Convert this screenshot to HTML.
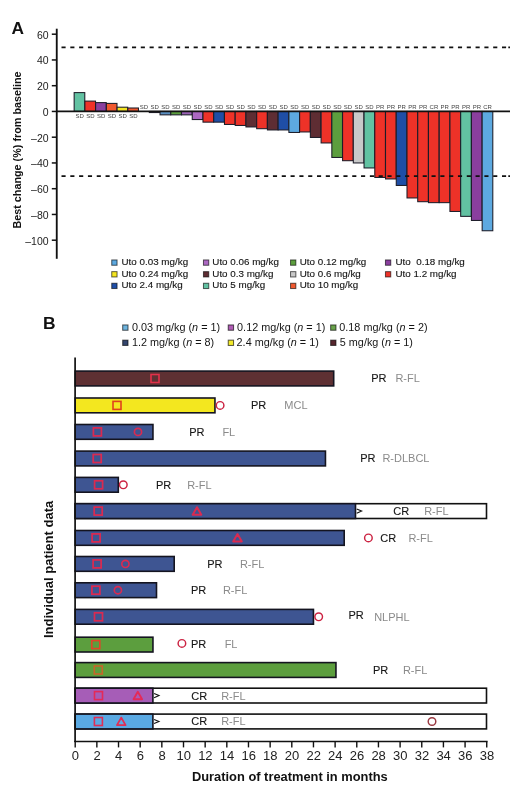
<!DOCTYPE html><html><head><meta charset="utf-8"><title>Figure</title>
<style>html,body{margin:0;padding:0;background:#fff}svg{display:block}text{font-family:"Liberation Sans",Arial,Helvetica,sans-serif}</style></head><body>
<svg width="520" height="786" viewBox="0 0 520 786">
<rect width="520" height="786" fill="#fff"/>
<text x="11.4" y="33.7" font-size="17.3" font-weight="bold" fill="#111">A</text>
<text transform="translate(20.5,150) rotate(-90)" text-anchor="middle" font-size="10.8" font-weight="bold" fill="#111">Best change (%) from baseline</text>
<rect x="74.15" y="92.60" width="10.64" height="18.80" fill="#62C2A2" stroke="#1c1c28" stroke-width="1.05"/>
<text x="79.62" y="118.1" text-anchor="middle" font-size="6" fill="#444">SD</text>
<rect x="84.89" y="101.10" width="10.64" height="10.30" fill="#EE3228" stroke="#1c1c28" stroke-width="1.05"/>
<text x="90.36" y="118.1" text-anchor="middle" font-size="6" fill="#444">SD</text>
<rect x="95.62" y="102.60" width="10.64" height="8.80" fill="#8A3F9E" stroke="#1c1c28" stroke-width="1.05"/>
<text x="101.09" y="118.1" text-anchor="middle" font-size="6" fill="#444">SD</text>
<rect x="106.36" y="103.40" width="10.64" height="8.00" fill="#F0592F" stroke="#1c1c28" stroke-width="1.05"/>
<text x="111.83" y="118.1" text-anchor="middle" font-size="6" fill="#444">SD</text>
<rect x="117.10" y="107.20" width="10.64" height="4.20" fill="#F4E522" stroke="#1c1c28" stroke-width="1.05"/>
<text x="122.57" y="118.1" text-anchor="middle" font-size="6" fill="#444">SD</text>
<rect x="127.84" y="108.00" width="10.64" height="3.40" fill="#F0592F" stroke="#1c1c28" stroke-width="1.05"/>
<text x="133.30" y="118.1" text-anchor="middle" font-size="6" fill="#444">SD</text>
<text x="144.04" y="109.2" text-anchor="middle" font-size="6" fill="#444">SD</text>
<rect x="149.31" y="111.45" width="10.64" height="1.10" fill="#5E2D33" stroke="#1c1c28" stroke-width="1.05"/>
<text x="154.78" y="109.2" text-anchor="middle" font-size="6" fill="#444">SD</text>
<rect x="160.05" y="111.45" width="10.64" height="3.40" fill="#5B8FC0" stroke="#1c1c28" stroke-width="1.05"/>
<text x="165.51" y="109.2" text-anchor="middle" font-size="6" fill="#444">SD</text>
<rect x="170.78" y="111.45" width="10.64" height="3.40" fill="#5C9E3E" stroke="#1c1c28" stroke-width="1.05"/>
<text x="176.25" y="109.2" text-anchor="middle" font-size="6" fill="#444">SD</text>
<rect x="181.52" y="111.45" width="10.64" height="3.40" fill="#9A62B4" stroke="#1c1c28" stroke-width="1.05"/>
<text x="186.99" y="109.2" text-anchor="middle" font-size="6" fill="#444">SD</text>
<rect x="192.26" y="111.45" width="10.64" height="8.10" fill="#AC68C2" stroke="#1c1c28" stroke-width="1.05"/>
<text x="197.73" y="109.2" text-anchor="middle" font-size="6" fill="#444">SD</text>
<rect x="202.99" y="111.45" width="10.64" height="10.70" fill="#EE3228" stroke="#1c1c28" stroke-width="1.05"/>
<text x="208.46" y="109.2" text-anchor="middle" font-size="6" fill="#444">SD</text>
<rect x="213.73" y="111.45" width="10.64" height="10.70" fill="#1F4EA6" stroke="#1c1c28" stroke-width="1.05"/>
<text x="219.20" y="109.2" text-anchor="middle" font-size="6" fill="#444">SD</text>
<rect x="224.47" y="111.45" width="10.64" height="13.00" fill="#EE3228" stroke="#1c1c28" stroke-width="1.05"/>
<text x="229.94" y="109.2" text-anchor="middle" font-size="6" fill="#444">SD</text>
<rect x="235.21" y="111.45" width="10.64" height="14.00" fill="#EE3228" stroke="#1c1c28" stroke-width="1.05"/>
<text x="240.67" y="109.2" text-anchor="middle" font-size="6" fill="#444">SD</text>
<rect x="245.94" y="111.45" width="10.64" height="15.50" fill="#5E2D33" stroke="#1c1c28" stroke-width="1.05"/>
<text x="251.41" y="109.2" text-anchor="middle" font-size="6" fill="#444">SD</text>
<rect x="256.68" y="111.45" width="10.64" height="17.25" fill="#EE3228" stroke="#1c1c28" stroke-width="1.05"/>
<text x="262.15" y="109.2" text-anchor="middle" font-size="6" fill="#444">SD</text>
<rect x="267.42" y="111.45" width="10.64" height="18.50" fill="#5E2D33" stroke="#1c1c28" stroke-width="1.05"/>
<text x="272.88" y="109.2" text-anchor="middle" font-size="6" fill="#444">SD</text>
<rect x="278.15" y="111.45" width="10.64" height="18.50" fill="#1F4EA6" stroke="#1c1c28" stroke-width="1.05"/>
<text x="283.62" y="109.2" text-anchor="middle" font-size="6" fill="#444">SD</text>
<rect x="288.89" y="111.45" width="10.64" height="21.00" fill="#5DA9E0" stroke="#1c1c28" stroke-width="1.05"/>
<text x="294.36" y="109.2" text-anchor="middle" font-size="6" fill="#444">SD</text>
<rect x="299.63" y="111.45" width="10.64" height="20.50" fill="#EE3228" stroke="#1c1c28" stroke-width="1.05"/>
<text x="305.10" y="109.2" text-anchor="middle" font-size="6" fill="#444">SD</text>
<rect x="310.36" y="111.45" width="10.64" height="26.00" fill="#5E2D33" stroke="#1c1c28" stroke-width="1.05"/>
<text x="315.83" y="109.2" text-anchor="middle" font-size="6" fill="#444">SD</text>
<rect x="321.10" y="111.45" width="10.64" height="31.50" fill="#EE3228" stroke="#1c1c28" stroke-width="1.05"/>
<text x="326.57" y="109.2" text-anchor="middle" font-size="6" fill="#444">SD</text>
<rect x="331.84" y="111.45" width="10.64" height="46.00" fill="#5C9E3E" stroke="#1c1c28" stroke-width="1.05"/>
<text x="337.31" y="109.2" text-anchor="middle" font-size="6" fill="#444">SD</text>
<rect x="342.57" y="111.45" width="10.64" height="49.25" fill="#EE3228" stroke="#1c1c28" stroke-width="1.05"/>
<text x="348.04" y="109.2" text-anchor="middle" font-size="6" fill="#444">SD</text>
<rect x="353.31" y="111.45" width="10.64" height="51.50" fill="#C9C9C9" stroke="#1c1c28" stroke-width="1.05"/>
<text x="358.78" y="109.2" text-anchor="middle" font-size="6" fill="#444">SD</text>
<rect x="364.05" y="111.45" width="10.64" height="56.50" fill="#62C2A2" stroke="#1c1c28" stroke-width="1.05"/>
<text x="369.52" y="109.2" text-anchor="middle" font-size="6" fill="#444">SD</text>
<rect x="374.79" y="111.45" width="10.64" height="66.00" fill="#EE3228" stroke="#1c1c28" stroke-width="1.05"/>
<text x="380.25" y="109.2" text-anchor="middle" font-size="6" fill="#444">PR</text>
<rect x="385.52" y="111.45" width="10.64" height="67.50" fill="#EE3228" stroke="#1c1c28" stroke-width="1.05"/>
<text x="390.99" y="109.2" text-anchor="middle" font-size="6" fill="#444">PR</text>
<rect x="396.26" y="111.45" width="10.64" height="74.00" fill="#1F4EA6" stroke="#1c1c28" stroke-width="1.05"/>
<text x="401.73" y="109.2" text-anchor="middle" font-size="6" fill="#444">PR</text>
<rect x="407.00" y="111.45" width="10.64" height="86.50" fill="#EE3228" stroke="#1c1c28" stroke-width="1.05"/>
<text x="412.47" y="109.2" text-anchor="middle" font-size="6" fill="#444">PR</text>
<rect x="417.73" y="111.45" width="10.64" height="90.25" fill="#EE3228" stroke="#1c1c28" stroke-width="1.05"/>
<text x="423.20" y="109.2" text-anchor="middle" font-size="6" fill="#444">PR</text>
<rect x="428.47" y="111.45" width="10.64" height="91.20" fill="#EE3228" stroke="#1c1c28" stroke-width="1.05"/>
<text x="433.94" y="109.2" text-anchor="middle" font-size="6" fill="#444">CR</text>
<rect x="439.21" y="111.45" width="10.64" height="91.20" fill="#EE3228" stroke="#1c1c28" stroke-width="1.05"/>
<text x="444.68" y="109.2" text-anchor="middle" font-size="6" fill="#444">PR</text>
<rect x="449.94" y="111.45" width="10.64" height="100.00" fill="#EE3228" stroke="#1c1c28" stroke-width="1.05"/>
<text x="455.41" y="109.2" text-anchor="middle" font-size="6" fill="#444">PR</text>
<rect x="460.68" y="111.45" width="10.64" height="104.90" fill="#62C2A2" stroke="#1c1c28" stroke-width="1.05"/>
<text x="466.15" y="109.2" text-anchor="middle" font-size="6" fill="#444">PR</text>
<rect x="471.42" y="111.45" width="10.64" height="109.00" fill="#8A3F9E" stroke="#1c1c28" stroke-width="1.05"/>
<text x="476.89" y="109.2" text-anchor="middle" font-size="6" fill="#444">PR</text>
<rect x="482.16" y="111.45" width="10.64" height="119.30" fill="#5DA9E0" stroke="#1c1c28" stroke-width="1.05"/>
<text x="487.62" y="109.2" text-anchor="middle" font-size="6" fill="#444">CR</text>
<line x1="56.75" y1="28.7" x2="56.75" y2="258.8" stroke="#111" stroke-width="1.85"/>
<line x1="56.75" y1="111.45" x2="510" y2="111.45" stroke="#111" stroke-width="1.7"/>
<line x1="51.8" y1="34.20" x2="57" y2="34.20" stroke="#111" stroke-width="1.5"/>
<text x="48.6" y="38.70" text-anchor="end" font-size="10.5" fill="#222">60</text>
<line x1="51.8" y1="59.95" x2="57" y2="59.95" stroke="#111" stroke-width="1.5"/>
<text x="48.6" y="64.45" text-anchor="end" font-size="10.5" fill="#222">40</text>
<line x1="51.8" y1="85.70" x2="57" y2="85.70" stroke="#111" stroke-width="1.5"/>
<text x="48.6" y="90.20" text-anchor="end" font-size="10.5" fill="#222">20</text>
<line x1="51.8" y1="111.45" x2="57" y2="111.45" stroke="#111" stroke-width="1.5"/>
<text x="48.6" y="115.95" text-anchor="end" font-size="10.5" fill="#222">0</text>
<line x1="51.8" y1="137.20" x2="57" y2="137.20" stroke="#111" stroke-width="1.5"/>
<text x="48.6" y="141.70" text-anchor="end" font-size="10.5" fill="#222">–20</text>
<line x1="51.8" y1="162.95" x2="57" y2="162.95" stroke="#111" stroke-width="1.5"/>
<text x="48.6" y="167.45" text-anchor="end" font-size="10.5" fill="#222">–40</text>
<line x1="51.8" y1="188.70" x2="57" y2="188.70" stroke="#111" stroke-width="1.5"/>
<text x="48.6" y="193.20" text-anchor="end" font-size="10.5" fill="#222">–60</text>
<line x1="51.8" y1="214.45" x2="57" y2="214.45" stroke="#111" stroke-width="1.5"/>
<text x="48.6" y="218.95" text-anchor="end" font-size="10.5" fill="#222">–80</text>
<line x1="51.8" y1="240.20" x2="57" y2="240.20" stroke="#111" stroke-width="1.5"/>
<text x="48.6" y="244.70" text-anchor="end" font-size="10.5" fill="#222">–100</text>
<line x1="61.5" y1="47.40" x2="510" y2="47.40" stroke="#111" stroke-width="1.8" stroke-dasharray="4.12 4.69"/>
<line x1="508.3" y1="47.40" x2="510" y2="47.40" stroke="#111" stroke-width="1.8"/>
<line x1="61.5" y1="176.20" x2="510" y2="176.20" stroke="#111" stroke-width="1.8" stroke-dasharray="4.12 4.69"/>
<line x1="508.3" y1="176.20" x2="510" y2="176.20" stroke="#111" stroke-width="1.8"/>
<rect x="111.75" y="259.95" width="5.3" height="5.3" fill="#5DA9E0" stroke="#000" stroke-opacity="0.62" stroke-width="1"/>
<text transform="translate(121.5,264.60) scale(1.06,1)" font-size="9.28" fill="#151515" stroke="#151515" stroke-width="0.12" xml:space="preserve">Uto 0.03 mg/kg</text>
<rect x="203.45" y="259.95" width="5.3" height="5.3" fill="#AC68C2" stroke="#000" stroke-opacity="0.62" stroke-width="1"/>
<text transform="translate(212.3,264.60) scale(1.06,1)" font-size="9.28" fill="#151515" stroke="#151515" stroke-width="0.12" xml:space="preserve">Uto 0.06 mg/kg</text>
<rect x="290.55" y="259.95" width="5.3" height="5.3" fill="#5C9E3E" stroke="#000" stroke-opacity="0.62" stroke-width="1"/>
<text transform="translate(299.7,264.60) scale(1.06,1)" font-size="9.28" fill="#151515" stroke="#151515" stroke-width="0.12" xml:space="preserve">Uto 0.12 mg/kg</text>
<rect x="385.45" y="259.95" width="5.3" height="5.3" fill="#8A3F9E" stroke="#000" stroke-opacity="0.62" stroke-width="1"/>
<text transform="translate(395.45,264.60) scale(1.06,1)" font-size="9.28" fill="#151515" stroke="#151515" stroke-width="0.12" xml:space="preserve">Uto  0.18 mg/kg</text>
<rect x="111.75" y="271.65" width="5.3" height="5.3" fill="#F4E522" stroke="#000" stroke-opacity="0.62" stroke-width="1"/>
<text transform="translate(121.5,276.80) scale(1.06,1)" font-size="9.28" fill="#151515" stroke="#151515" stroke-width="0.12" xml:space="preserve">Uto 0.24 mg/kg</text>
<rect x="203.45" y="271.65" width="5.3" height="5.3" fill="#5E2D33" stroke="#000" stroke-opacity="0.62" stroke-width="1"/>
<text transform="translate(212.3,276.80) scale(1.06,1)" font-size="9.28" fill="#151515" stroke="#151515" stroke-width="0.12" xml:space="preserve">Uto 0.3 mg/kg</text>
<rect x="290.55" y="271.65" width="5.3" height="5.3" fill="#C9C9C9" stroke="#000" stroke-opacity="0.62" stroke-width="1"/>
<text transform="translate(299.7,276.80) scale(1.06,1)" font-size="9.28" fill="#151515" stroke="#151515" stroke-width="0.12" xml:space="preserve">Uto 0.6 mg/kg</text>
<rect x="385.45" y="271.65" width="5.3" height="5.3" fill="#EE3228" stroke="#000" stroke-opacity="0.62" stroke-width="1"/>
<text transform="translate(395.45,276.80) scale(1.06,1)" font-size="9.28" fill="#151515" stroke="#151515" stroke-width="0.12" xml:space="preserve">Uto 1.2 mg/kg</text>
<rect x="111.75" y="283.25" width="5.3" height="5.3" fill="#1F4EA6" stroke="#000" stroke-opacity="0.62" stroke-width="1"/>
<text transform="translate(121.5,288.30) scale(1.06,1)" font-size="9.28" fill="#151515" stroke="#151515" stroke-width="0.12" xml:space="preserve">Uto 2.4 mg/kg</text>
<rect x="203.45" y="283.25" width="5.3" height="5.3" fill="#62C2A2" stroke="#000" stroke-opacity="0.62" stroke-width="1"/>
<text transform="translate(212.3,288.30) scale(1.06,1)" font-size="9.28" fill="#151515" stroke="#151515" stroke-width="0.12" xml:space="preserve">Uto 5 mg/kg</text>
<rect x="290.55" y="283.25" width="5.3" height="5.3" fill="#F0592F" stroke="#000" stroke-opacity="0.62" stroke-width="1"/>
<text transform="translate(299.7,288.30) scale(1.06,1)" font-size="9.28" fill="#151515" stroke="#151515" stroke-width="0.12" xml:space="preserve">Uto 10 mg/kg</text>
<text x="42.95" y="328.8" font-size="17.4" font-weight="bold" fill="#111">B</text>
<text transform="translate(52.9,569.4) rotate(-90)" text-anchor="middle" font-size="13" font-weight="bold" fill="#111">Individual patient data</text>
<rect x="122.70" y="324.95" width="5.3" height="5.3" fill="#6FB4DE" stroke="#000" stroke-opacity="0.62" stroke-width="1.05"/>
<text transform="translate(131.9,330.90) scale(1.053,1)" font-size="10.3" fill="#151515">0.03 mg/kg (<tspan font-style="italic">n</tspan> = 1)</text>
<rect x="228.25" y="324.95" width="5.3" height="5.3" fill="#B05DB5" stroke="#000" stroke-opacity="0.62" stroke-width="1.05"/>
<text transform="translate(237.1,330.90) scale(1.053,1)" font-size="10.3" fill="#151515">0.12 mg/kg (<tspan font-style="italic">n</tspan> = 1)</text>
<rect x="330.65" y="324.95" width="5.3" height="5.3" fill="#6AA34C" stroke="#000" stroke-opacity="0.62" stroke-width="1.05"/>
<text transform="translate(339.3,330.90) scale(1.053,1)" font-size="10.3" fill="#151515">0.18 mg/kg (<tspan font-style="italic">n</tspan> = 2)</text>
<rect x="122.70" y="340.15" width="5.3" height="5.3" fill="#34466E" stroke="#000" stroke-opacity="0.62" stroke-width="1.05"/>
<text transform="translate(132.0,345.90) scale(1.053,1)" font-size="10.3" fill="#151515">1.2 mg/kg (<tspan font-style="italic">n</tspan> = 8)</text>
<rect x="228.25" y="340.15" width="5.3" height="5.3" fill="#F3EA2A" stroke="#000" stroke-opacity="0.62" stroke-width="1.05"/>
<text transform="translate(236.6,345.90) scale(1.053,1)" font-size="10.3" fill="#151515">2.4 mg/kg (<tspan font-style="italic">n</tspan> = 1)</text>
<rect x="330.65" y="340.15" width="5.3" height="5.3" fill="#56262D" stroke="#000" stroke-opacity="0.62" stroke-width="1.05"/>
<text transform="translate(339.8,345.90) scale(1.053,1)" font-size="10.3" fill="#151515">5 mg/kg (<tspan font-style="italic">n</tspan> = 1)</text>
<rect x="75.20" y="371.10" width="258.50" height="14.80" fill="#5E3033" stroke="#141420" stroke-width="1.6"/>
<rect x="151.00" y="374.50" width="8" height="8" fill="none" stroke="#E2304A" stroke-width="1.6"/>
<text x="371.15" y="382.40" font-size="11" fill="#161616" stroke="#161616" stroke-width="0.12">PR</text>
<text x="395.40" y="382.40" font-size="11" fill="#8a8a8a">R-FL</text>
<rect x="75.20" y="398.00" width="139.75" height="14.80" fill="#F3E71F" stroke="#141420" stroke-width="1.6"/>
<rect x="113.00" y="401.40" width="8" height="8" fill="none" stroke="#E0421C" stroke-width="1.6"/>
<circle cx="220.10" cy="405.40" r="3.8" fill="none" stroke="#CC2342" stroke-width="1.45"/>
<text x="250.90" y="409.30" font-size="11" fill="#161616" stroke="#161616" stroke-width="0.12">PR</text>
<text x="284.35" y="409.30" font-size="11" fill="#8a8a8a">MCL</text>
<rect x="75.20" y="424.50" width="77.75" height="14.80" fill="#3E5592" stroke="#141420" stroke-width="1.6"/>
<rect x="93.40" y="427.90" width="8" height="8" fill="none" stroke="#DA2A50" stroke-width="1.75"/>
<circle cx="138.00" cy="431.90" r="3.6" fill="none" stroke="#DA2A50" stroke-width="1.65"/>
<text x="189.15" y="435.80" font-size="11" fill="#161616" stroke="#161616" stroke-width="0.12">PR</text>
<text x="222.40" y="435.80" font-size="11" fill="#8a8a8a">FL</text>
<rect x="75.20" y="451.10" width="250.25" height="14.80" fill="#3E5592" stroke="#141420" stroke-width="1.6"/>
<rect x="93.20" y="454.50" width="8" height="8" fill="none" stroke="#DA2A50" stroke-width="1.75"/>
<text x="360.15" y="462.40" font-size="11" fill="#161616" stroke="#161616" stroke-width="0.12">PR</text>
<text x="382.40" y="462.40" font-size="11" fill="#8a8a8a">R-DLBCL</text>
<rect x="75.20" y="477.40" width="43.10" height="14.80" fill="#3E5592" stroke="#141420" stroke-width="1.6"/>
<rect x="94.60" y="480.80" width="8" height="8" fill="none" stroke="#DA2A50" stroke-width="1.75"/>
<circle cx="123.30" cy="484.80" r="3.8" fill="none" stroke="#CC2342" stroke-width="1.45"/>
<text x="155.90" y="488.70" font-size="11" fill="#161616" stroke="#161616" stroke-width="0.12">PR</text>
<text x="187.15" y="488.70" font-size="11" fill="#8a8a8a">R-FL</text>
<rect x="75.20" y="503.70" width="411.30" height="14.80" fill="#fff" stroke="#111" stroke-width="1.6"/>
<rect x="75.20" y="503.70" width="280.30" height="14.80" fill="#3E5592" stroke="#141420" stroke-width="1.6"/>
<path d="M356.70 509.00 L361.60 511.10 L356.70 513.20" fill="none" stroke="#111" stroke-width="1.1"/>
<rect x="94.20" y="507.10" width="8" height="8" fill="none" stroke="#DA2A50" stroke-width="1.75"/>
<path d="M197.00 507.20 L201.30 514.70 L192.70 514.70 Z" fill="none" stroke="#DA2A50" stroke-width="2.0" stroke-linejoin="round"/>
<text x="393.25" y="515.00" font-size="11" fill="#161616" stroke="#161616" stroke-width="0.12">CR</text>
<text x="424.15" y="515.00" font-size="11" fill="#8a8a8a">R-FL</text>
<rect x="75.20" y="530.50" width="269.00" height="14.80" fill="#3E5592" stroke="#141420" stroke-width="1.6"/>
<rect x="92.10" y="533.90" width="8" height="8" fill="none" stroke="#DA2A50" stroke-width="1.75"/>
<path d="M237.50 534.00 L241.80 541.50 L233.20 541.50 Z" fill="none" stroke="#DA2A50" stroke-width="2.0" stroke-linejoin="round"/>
<circle cx="368.40" cy="537.90" r="3.8" fill="none" stroke="#CC2342" stroke-width="1.45"/>
<text x="380.25" y="541.80" font-size="11" fill="#161616" stroke="#161616" stroke-width="0.12">CR</text>
<text x="408.40" y="541.80" font-size="11" fill="#8a8a8a">R-FL</text>
<rect x="75.20" y="556.50" width="99.00" height="14.80" fill="#3E5592" stroke="#141420" stroke-width="1.6"/>
<rect x="93.10" y="559.90" width="8" height="8" fill="none" stroke="#DA2A50" stroke-width="1.75"/>
<circle cx="125.40" cy="563.90" r="3.6" fill="none" stroke="#DA2A50" stroke-width="1.65"/>
<text x="207.15" y="567.80" font-size="11" fill="#161616" stroke="#161616" stroke-width="0.12">PR</text>
<text x="239.90" y="567.80" font-size="11" fill="#8a8a8a">R-FL</text>
<rect x="75.20" y="582.80" width="81.30" height="14.80" fill="#3E5592" stroke="#141420" stroke-width="1.6"/>
<rect x="91.90" y="586.20" width="8" height="8" fill="none" stroke="#DA2A50" stroke-width="1.75"/>
<circle cx="117.90" cy="590.20" r="3.6" fill="none" stroke="#DA2A50" stroke-width="1.65"/>
<text x="190.90" y="594.10" font-size="11" fill="#161616" stroke="#161616" stroke-width="0.12">PR</text>
<text x="222.90" y="594.10" font-size="11" fill="#8a8a8a">R-FL</text>
<rect x="75.20" y="609.40" width="238.25" height="14.80" fill="#3E5592" stroke="#141420" stroke-width="1.6"/>
<rect x="94.50" y="612.80" width="8" height="8" fill="none" stroke="#DA2A50" stroke-width="1.75"/>
<circle cx="318.70" cy="616.80" r="3.8" fill="none" stroke="#CC2342" stroke-width="1.45"/>
<text x="348.40" y="619.20" font-size="11" fill="#161616" stroke="#161616" stroke-width="0.12">PR</text>
<text x="374.15" y="620.80" font-size="11" fill="#8a8a8a">NLPHL</text>
<rect x="75.20" y="637.20" width="77.75" height="14.80" fill="#5C9E3E" stroke="#141420" stroke-width="1.6"/>
<rect x="91.80" y="640.60" width="8" height="8" fill="none" stroke="#E2442A" stroke-width="1.6"/>
<circle cx="181.90" cy="643.40" r="3.8" fill="none" stroke="#CC2342" stroke-width="1.45"/>
<text x="190.90" y="648.00" font-size="11" fill="#161616" stroke="#161616" stroke-width="0.12">PR</text>
<text x="224.65" y="648.00" font-size="11" fill="#8a8a8a">FL</text>
<rect x="75.20" y="662.60" width="260.75" height="14.80" fill="#5C9E3E" stroke="#141420" stroke-width="1.6"/>
<rect x="94.30" y="666.00" width="8" height="8" fill="none" stroke="#C8652A" stroke-width="1.6"/>
<text x="372.90" y="673.90" font-size="11" fill="#161616" stroke="#161616" stroke-width="0.12">PR</text>
<text x="402.90" y="673.90" font-size="11" fill="#8a8a8a">R-FL</text>
<rect x="75.20" y="688.20" width="411.30" height="14.80" fill="#fff" stroke="#111" stroke-width="1.6"/>
<rect x="75.20" y="688.20" width="77.70" height="14.80" fill="#A65DB7" stroke="#141420" stroke-width="1.6"/>
<path d="M154.10 693.50 L159.00 695.60 L154.10 697.70" fill="none" stroke="#111" stroke-width="1.1"/>
<rect x="94.50" y="691.60" width="8" height="8" fill="none" stroke="#E42A58" stroke-width="1.6"/>
<path d="M137.80 691.70 L142.10 699.20 L133.50 699.20 Z" fill="none" stroke="#E42A58" stroke-width="1.85" stroke-linejoin="round"/>
<text x="191.25" y="699.50" font-size="11" fill="#161616" stroke="#161616" stroke-width="0.12">CR</text>
<text x="221.15" y="699.50" font-size="11" fill="#8a8a8a">R-FL</text>
<rect x="75.20" y="714.10" width="411.30" height="14.80" fill="#fff" stroke="#111" stroke-width="1.6"/>
<rect x="75.20" y="714.10" width="77.70" height="14.80" fill="#5AA9E3" stroke="#141420" stroke-width="1.6"/>
<path d="M154.10 719.40 L159.00 721.50 L154.10 723.60" fill="none" stroke="#111" stroke-width="1.1"/>
<rect x="94.40" y="717.50" width="8" height="8" fill="none" stroke="#E02E55" stroke-width="1.6"/>
<path d="M121.25 717.60 L125.55 725.10 L116.95 725.10 Z" fill="none" stroke="#E02E55" stroke-width="1.85" stroke-linejoin="round"/>
<circle cx="432.00" cy="721.50" r="3.8" fill="none" stroke="#9A3A42" stroke-width="1.45"/>
<text x="191.25" y="725.40" font-size="11" fill="#161616" stroke="#161616" stroke-width="0.12">CR</text>
<text x="221.15" y="725.40" font-size="11" fill="#8a8a8a">R-FL</text>
<line x1="75.10000000000001" y1="357.4" x2="75.10000000000001" y2="742" stroke="#111" stroke-width="1.7"/>
<line x1="74.3" y1="741.5" x2="487.6" y2="741.5" stroke="#111" stroke-width="1.6"/>
<line x1="75.20" y1="741.5" x2="75.20" y2="747.4" stroke="#111" stroke-width="1.4"/>
<text x="75.40" y="759.9" text-anchor="middle" font-size="13" fill="#222">0</text>
<line x1="96.86" y1="741.5" x2="96.86" y2="747.4" stroke="#111" stroke-width="1.4"/>
<text x="97.06" y="759.9" text-anchor="middle" font-size="13" fill="#222">2</text>
<line x1="118.52" y1="741.5" x2="118.52" y2="747.4" stroke="#111" stroke-width="1.4"/>
<text x="118.72" y="759.9" text-anchor="middle" font-size="13" fill="#222">4</text>
<line x1="140.18" y1="741.5" x2="140.18" y2="747.4" stroke="#111" stroke-width="1.4"/>
<text x="140.38" y="759.9" text-anchor="middle" font-size="13" fill="#222">6</text>
<line x1="161.84" y1="741.5" x2="161.84" y2="747.4" stroke="#111" stroke-width="1.4"/>
<text x="162.04" y="759.9" text-anchor="middle" font-size="13" fill="#222">8</text>
<line x1="183.50" y1="741.5" x2="183.50" y2="747.4" stroke="#111" stroke-width="1.4"/>
<text x="183.70" y="759.9" text-anchor="middle" font-size="13" fill="#222">10</text>
<line x1="205.16" y1="741.5" x2="205.16" y2="747.4" stroke="#111" stroke-width="1.4"/>
<text x="205.36" y="759.9" text-anchor="middle" font-size="13" fill="#222">12</text>
<line x1="226.82" y1="741.5" x2="226.82" y2="747.4" stroke="#111" stroke-width="1.4"/>
<text x="227.02" y="759.9" text-anchor="middle" font-size="13" fill="#222">14</text>
<line x1="248.48" y1="741.5" x2="248.48" y2="747.4" stroke="#111" stroke-width="1.4"/>
<text x="248.68" y="759.9" text-anchor="middle" font-size="13" fill="#222">16</text>
<line x1="270.14" y1="741.5" x2="270.14" y2="747.4" stroke="#111" stroke-width="1.4"/>
<text x="270.34" y="759.9" text-anchor="middle" font-size="13" fill="#222">18</text>
<line x1="291.80" y1="741.5" x2="291.80" y2="747.4" stroke="#111" stroke-width="1.4"/>
<text x="292.00" y="759.9" text-anchor="middle" font-size="13" fill="#222">20</text>
<line x1="313.46" y1="741.5" x2="313.46" y2="747.4" stroke="#111" stroke-width="1.4"/>
<text x="313.66" y="759.9" text-anchor="middle" font-size="13" fill="#222">22</text>
<line x1="335.12" y1="741.5" x2="335.12" y2="747.4" stroke="#111" stroke-width="1.4"/>
<text x="335.32" y="759.9" text-anchor="middle" font-size="13" fill="#222">24</text>
<line x1="356.78" y1="741.5" x2="356.78" y2="747.4" stroke="#111" stroke-width="1.4"/>
<text x="356.98" y="759.9" text-anchor="middle" font-size="13" fill="#222">26</text>
<line x1="378.44" y1="741.5" x2="378.44" y2="747.4" stroke="#111" stroke-width="1.4"/>
<text x="378.64" y="759.9" text-anchor="middle" font-size="13" fill="#222">28</text>
<line x1="400.10" y1="741.5" x2="400.10" y2="747.4" stroke="#111" stroke-width="1.4"/>
<text x="400.30" y="759.9" text-anchor="middle" font-size="13" fill="#222">30</text>
<line x1="421.76" y1="741.5" x2="421.76" y2="747.4" stroke="#111" stroke-width="1.4"/>
<text x="421.96" y="759.9" text-anchor="middle" font-size="13" fill="#222">32</text>
<line x1="443.42" y1="741.5" x2="443.42" y2="747.4" stroke="#111" stroke-width="1.4"/>
<text x="443.62" y="759.9" text-anchor="middle" font-size="13" fill="#222">34</text>
<line x1="465.08" y1="741.5" x2="465.08" y2="747.4" stroke="#111" stroke-width="1.4"/>
<text x="465.28" y="759.9" text-anchor="middle" font-size="13" fill="#222">36</text>
<line x1="486.74" y1="741.5" x2="486.74" y2="747.4" stroke="#111" stroke-width="1.4"/>
<text x="486.94" y="759.9" text-anchor="middle" font-size="13" fill="#222">38</text>
<text x="289.85" y="781.2" text-anchor="middle" font-size="12.87" font-weight="bold" fill="#111">Duration of treatment in months</text>
</svg></body></html>
